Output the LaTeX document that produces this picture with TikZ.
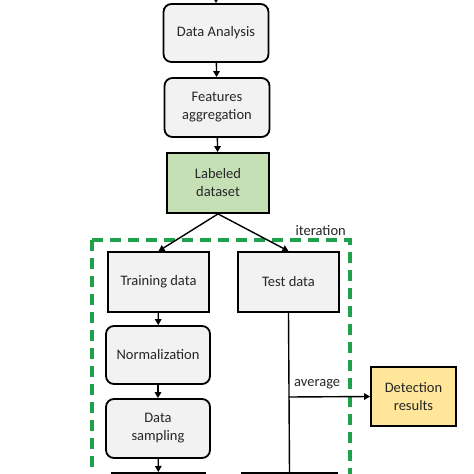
\documentclass[tikz,border=0pt]{standalone}
\usepackage{fontspec}
\setmainfont{Carlito}
\usetikzlibrary{arrows.meta}
\definecolor{boxgray}{HTML}{F2F2F2}
\definecolor{boxgreen}{HTML}{C5E0B4}
\definecolor{boxyellow}{HTML}{FFE699}
\definecolor{dashgreen}{HTML}{1FA04A}
\tikzset{
  base/.style={draw=black, line width=1.8pt, align=center, inner sep=0pt, font=\fontsize{14.5}{18}\selectfont, text=black!85},
  rbox/.style={base, fill=boxgray, rounded corners=8pt},
  sbox/.style={base, fill=boxgray},
  gbox/.style={base, fill=boxgreen},
  ybox/.style={base, fill=boxyellow},
  conn/.style={line width=1.4pt, -{Triangle[length=6pt,width=6.5pt]}},
  plainline/.style={line width=1.4pt},
  lbl/.style={font=\fontsize{14.5}{18}\selectfont, text=black!85, inner sep=0pt}
}
\begin{document}
\begin{tikzpicture}[x=1pt,y=-1pt]
\useasboundingbox (0,0) rectangle (474,474);
\clip (0,0) rectangle (474,474);
\fill[white] (0,0) rectangle (474,474);
\coordinate (topin) at (216,-5);
\node[rbox, minimum width=105pt, minimum height=58pt] (da) at (216,33) {Data Analysis};
\node[rbox, minimum width=105pt, minimum height=59pt] (fa) at (217,107.5) {Features\\aggregation};
\node[gbox, minimum width=102pt, minimum height=60pt] (ld) at (218,183) {Labeled\\dataset};
\node[sbox, minimum width=101pt, minimum height=60pt] (tr) at (158.5,282) {Training data};
\node[sbox, minimum width=101pt, minimum height=60pt] (te) at (288.5,282) {Test data};
\node[rbox, minimum width=104pt, minimum height=58pt] (no) at (158,355) {Normalization};
\node[rbox, minimum width=104pt, minimum height=59pt] (ds) at (158,428.5) {Data\\sampling};
\node[ybox, minimum width=85pt, minimum height=59pt] (dr) at (413.5,396.5) {Detection\\results};
\node[sbox, fill=black, minimum width=93pt, minimum height=40pt, anchor=north] (b1) at (158.5,472) {};
\node[sbox, fill=black, minimum width=95pt, minimum height=40pt, anchor=north] (b2) at (289.5,472) {};
% dashed iteration frame
\draw[dashgreen, line width=4pt, dash pattern=on 11pt off 7pt] (92,240) -- (350,240) -- (350,520) (92,240) -- (92,520);
\node[lbl, anchor=south east] (it) at (346,236) {iteration};
% connectors
\draw[conn] (topin) -- (da);
\draw[conn] (da) -- (fa);
\draw[conn] (fa) -- (ld);
\draw[conn] (ld.south) -- (tr.north);
\draw[conn] (ld.south) -- (te.north);
\draw[conn] (tr) -- (no);
\draw[conn] (no) -- (ds);
\draw[conn] (ds) -- (b1);
\draw[plainline] (te.south) -- (b2.north);
\coordinate (avg) at (288.5,397);
\draw[conn] (avg) -- (dr.west);
\node[lbl, anchor=south west] (al) at (294,389) {average};
\end{tikzpicture}
\end{document}
